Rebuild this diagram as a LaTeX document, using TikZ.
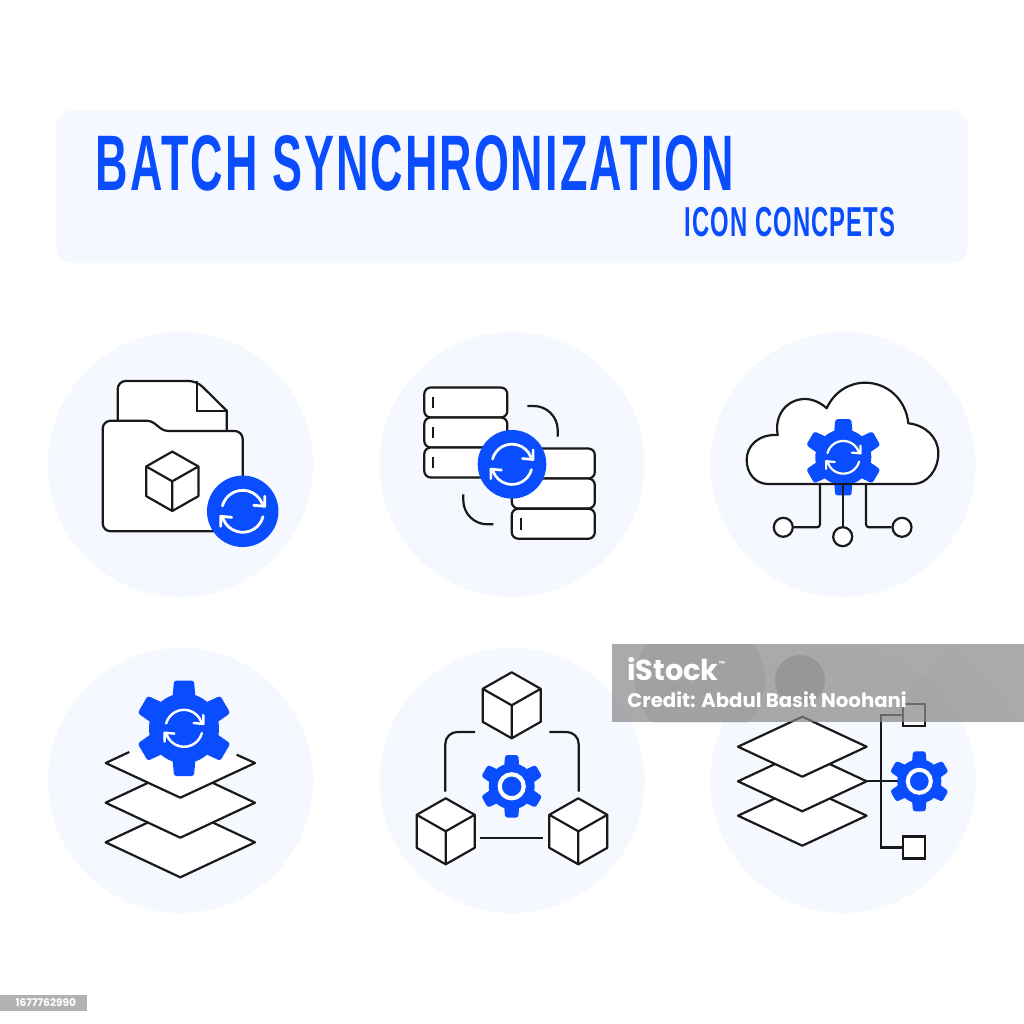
\documentclass[tikz,border=0pt]{standalone}
\usepackage{fontspec}
\newfontfamily\headfont[FakeStretch=0.57,LetterSpace=2.6]{Liberation Sans}
\newfontfamily\markfont{Poppins}
\definecolor{iconblue}{HTML}{0A4DFF}
\definecolor{panelblue}{HTML}{F5F8FE}

% gear centred on (#1,#2), outer radius 47.7*#3
\newcommand{\gearicon}[3]{
\begin{scope}[shift={(#1,#2)},scale=#3]
\fill[iconblue] (0,0) circle (35);
\foreach \a in {0,60,...,300}
    \fill[iconblue,rotate=\a,rounded corners=0.025cm] (-12,-25) -- (-10,-47.7) -- (10,-47.7) -- (12,-25) -- cycle;
\end{scope}
}

\newcommand{\syncicon}[3]{
\begin{scope}[shift={(#1,#2)},scale=#3]
\foreach \r in {0,180}
    \draw[white,line width=0.028cm*#3,line cap=round,line join=round,rotate=\r]
        (195:21) arc[start angle=195,end angle=338,radius=21] (11,-6) -- (22,-5) -- (22,-15);
\end{scope}
}

\newcommand{\cubeicon}[3]{
\begin{scope}[shift={(#1,#2)},scale=#3]
\filldraw[icon line,fill=white,line join=round] (0,-33) -- (-29,-16.5) -- (-29,16.5) -- (0,33) -- (29,16.5) -- (29,-16.5) -- cycle;
\draw[icon line,line join=round] (-29,-16.5) -- (0,0) -- (29,-16.5) (0,0) -- (0,33);
\end{scope}
}

\newcommand{\layericon}[4]{
\filldraw[icon line,fill=white,line join=round] (#1-#3,#2) -- (#1,#2+#4) -- (#1+#3,#2) -- (#1,#2-#4) -- cycle;
}

\begin{document}
\begin{tikzpicture}[x=0.01cm, y=-0.01cm,
    icon line/.style={draw=black!90, line width=0.022cm},
    panel node/.style={circle, fill=panelblue, minimum size=2.65cm, inner sep=0pt},
    badge node/.style={circle, fill=iconblue, inner sep=0pt},
    row node/.style={rectangle, rounded corners=0.065cm, icon line, fill=white, minimum width=0.83cm, minimum height=0.30cm, inner sep=0pt},
    port node/.style={circle, icon line, fill=white, minimum size=0.19cm, inner sep=0pt},
    box node/.style={rectangle, icon line, fill=white, minimum size=0.22cm, inner sep=0pt},
    head text/.style={anchor=base west, inner sep=0pt, text=iconblue}]

\useasboundingbox (0,0) rectangle (1024,1024);
\fill[white] (0,0) rectangle (1024,1024);

\fill[panelblue, rounded corners=0.17cm] (56,110) rectangle (968,263);
\node[head text](title) at (95,190) {\headfont\bfseries\fontsize{22.4}{24}\selectfont BATCH SYNCHRONIZATION};
\node[head text](subtitle) at (684,236) {\headfont\bfseries\fontsize{11.9}{13}\selectfont ICON CONCPETS};

\node[panel node](panel1) at (180.5,464.5) {};
\node[panel node](panel2) at (512,464.5) {};
\node[panel node](panel3) at (843,464.5) {};
\node[panel node](panel4) at (180.5,780.5) {};
\node[panel node](panel5) at (512,780.5) {};
\node[panel node](panel6) at (843,780.5) {};

% folder with file
\filldraw[icon line, fill=white, rounded corners=0.08cm] (117.7,445) -- (117.7,381) -- (196.7,381) [sharp corners] -- (226.7,410.7) -- (226.7,445) -- cycle;
\draw[icon line] (196.7,381) -- (196.7,410.7) -- (226.7,410.7);
\filldraw[icon line, fill=white, rounded corners=0.08cm] (102.7,531.3) -- (102.7,420.7) [rounded corners=0.04cm] -- (151,420.7) -- (164,431) [rounded corners=0.08cm] -- (242.7,431) -- (242.7,531.3) -- cycle;
\cubeicon{172.3}{481.3}{0.9}
\node[badge node, minimum size=0.714cm](badge1) at (242.7,511.3) {};
\syncicon{242.7}{511.3}{1}

% two server stacks
\node[row node](rowa) at (465.8,402.5) {};
\node[row node](rowb) at (465.8,432.5) {};
\node[row node](rowc) at (465.8,462.5) {};
\node[row node](rowd) at (553.3,463.5) {};
\node[row node](rowe) at (553.3,493.5) {};
\node[row node](rowf) at (553.3,523.7) {};
\foreach \n in {rowa,rowb,rowc}
    \draw[icon line] ([xshift=0.097cm,yshift=0.055cm]\n.west) -- ([xshift=0.097cm,yshift=-0.055cm]\n.west);
\draw[icon line] ([xshift=0.10cm,yshift=0.06cm]rowf.west) -- ([xshift=0.10cm,yshift=-0.06cm]rowf.west);
\coordinate (linka) at (527.3,406);
\coordinate (linkb) at (557.7,436.7);
\coordinate (linkc) at (463.3,494.3);
\coordinate (linkd) at (493.3,524.3);
\draw[icon line, rounded corners=0.24cm] (linka) -| (linkb);
\draw[icon line, rounded corners=0.24cm] (linkc) |- (linkd);
\node[badge node, minimum size=0.686cm](badge2) at (512,464.3) {};
\syncicon{512}{464.3}{0.96}

% cloud
\filldraw[icon line, fill=white, line join=round] (768.3,484) .. controls (755,484) and (746.7,473) .. (746.7,460)
    .. controls (746.7,446) and (758,434) .. (777.7,435)
    .. controls (774,415) and (787,399) .. (805,399)
    .. controls (813,399) and (821,403) .. (826.7,408.3)
    .. controls (834,392) and (849,382.7) .. (865,382.7)
    .. controls (888,382.7) and (906,400) .. (908.3,423.3)
    .. controls (925,425) and (938.3,437) .. (938.3,453.3)
    .. controls (938.3,470) and (927,484) .. (913.3,484) -- cycle;
\gearicon{843.3}{457.3}{0.8}
\syncicon{843.3}{457.3}{0.78}
\coordinate (cloudl) at (768.3,484);
\coordinate (cloudr) at (913.3,484);
\coordinate (dropa) at (820,484);
\coordinate (dropb) at (842.7,484);
\coordinate (dropc) at (866,484);
\node[port node](porta) at (783.3,527.3) {};
\node[port node](portb) at (842.7,536.7) {};
\node[port node](portc) at (902,527.3) {};
\draw[icon line] (cloudl) -- (cloudr);
\draw[icon line, rounded corners=0.03cm] (dropa) |- (porta);
\draw[icon line] (dropb) -- (portb);
\draw[icon line, rounded corners=0.03cm] (dropc) |- (portc);

% layers with gear
\layericon{180.3}{842.3}{74.7}{35}
\layericon{180.3}{802.7}{74.7}{35}
\fill[white] (129.3,752) -- (105.7,763) -- (180.3,797.7) -- (255,763) -- (236.7,754.7) -- cycle;
\draw[icon line, line join=round] (129.3,752) -- (105.7,763) -- (180.3,797.7) -- (255,763) -- (236.7,754.7);
\gearicon{184}{728.3}{1}
\syncicon{184}{728.3}{0.88}

% three cubes around a gear
\cubeicon{511.7}{705.3}{1}
\cubeicon{445.7}{831.3}{1}
\cubeicon{578.3}{831.3}{1}
\coordinate (topl) at (475,732);
\coordinate (topr) at (549.3,732);
\coordinate (cubel) at (445.3,791.7);
\coordinate (cuber) at (578.7,791.7);
\coordinate (basel) at (480,838.3);
\coordinate (baser) at (543,838.3);
\draw[icon line, rounded corners=0.12cm] (topl) -| (cubel);
\draw[icon line, rounded corners=0.12cm] (topr) -| (cuber);
\draw[icon line] (basel) -- (baser);
\gearicon{511.7}{786.3}{0.656}
\draw[white, line width=0.042cm] (511.7,786.3) circle (12);

% layers wired to a gear and two boxes
\layericon{802.3}{815.7}{64.3}{30}
\layericon{802.3}{781.3}{64.3}{30}
\layericon{802.3}{746.7}{64.3}{30}
\coordinate (layerm) at (866.6,781.3);
\coordinate (trunk) at (881,781.3);
\node[box node](boxa) at (914.3,714.7) {};
\node[box node](boxb) at (914.3,847.5) {};
\draw[icon line] (boxa.west) -| (trunk) |- (boxb.west);
\draw[icon line] (layerm) -- (919.3,781.3);
\gearicon{919.3}{781.3}{0.63}
\draw[white, line width=0.04cm] (919.3,781.3) circle (11.5);

% stock band
\begin{scope}
\clip (612,644) rectangle (1024,722);
\fill[black!47, opacity=0.7] (612,644) rectangle (1024,722);
\fill[black!50, opacity=0.2] (700,680) ellipse (65 and 62);
\fill[black!60, opacity=0.25] (800,680) circle (25);
\fill[black!40, opacity=0.1] (880,722) -- (950,644) -- (1024,722) -- cycle;
\end{scope}
\node[anchor=base west, inner sep=0pt, text=white](stockname) at (626.5,680.7) {\markfont\bfseries\fontsize{8.2}{10}\selectfont iStock{\fontsize{2}{2}\selectfont\raisebox{0.14cm}{™}}};
\node[anchor=base west, inner sep=0pt, text=white](stockcredit) at (626.7,707.5) {\markfont\fontsize{5.6}{6}\selectfont\bfseries Credit: Abdul Basit Noohani};

\node[rectangle, fill=black!30, minimum width=0.87cm, minimum height=0.16cm, inner sep=0pt](tagbox) at (43.5,1003) {};
\node[anchor=base west, inner sep=0pt, text=white](tagtext) at (15,1006.5) {\markfont\bfseries\fontsize{3}{4}\selectfont 1677762990};

\end{tikzpicture}
\end{document}
